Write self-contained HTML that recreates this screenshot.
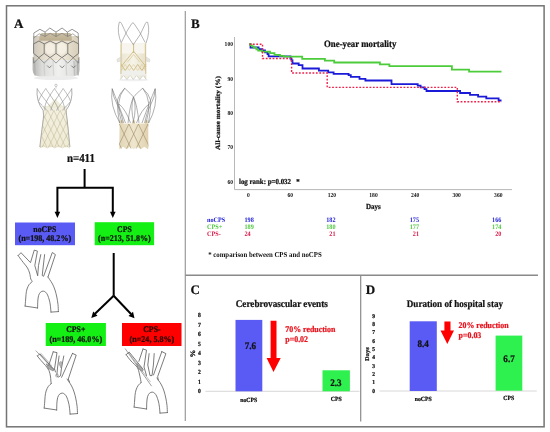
<!DOCTYPE html>
<html><head><meta charset="utf-8"><title>Figure</title>
<style>
html,body{margin:0;padding:0;background:#fff;}
body{width:550px;height:432px;overflow:hidden;}
svg{display:block;}
text{font-family:"Liberation Serif","Times New Roman",serif;font-weight:bold;text-rendering:geometricPrecision;transform-box:fill-box;transform-origin:50% 80.5%;transform:scaleY(1.1);}
text{stroke:#111;stroke-width:0.22px;}
text.ns{transform:none;}
text.rot{transform:scaleX(1.1);}
.cb text{fill:#2020d8;stroke:#2020d8;}
.cg text{fill:#50c840;stroke:#50c840;}
.cr text{fill:#dd1848;stroke:#dd1848;}
.rr text{fill:#e8141e;stroke:#e8141e;}
.dr{fill:#200;stroke:#200;}
.thin text,text.thin{stroke-width:0;stroke:none;}
</style></head>
<body>
<svg width="550" height="432" viewBox="0 0 550 432" fill="#111">
<rect x="0" y="0" width="550" height="432" fill="#fff"/>
<!-- frame -->
<rect x="6.5" y="5.8" width="537.6" height="421" fill="none" stroke="#747474" stroke-width="1.5"/>
<line x1="185.3" y1="11" x2="185.3" y2="421" stroke="#9a9a9a" stroke-width="1.2"/>
<line x1="185.3" y1="275.3" x2="538" y2="275.3" stroke="#8a8a8a" stroke-width="1.4"/>
<line x1="360.7" y1="275.3" x2="360.7" y2="421.5" stroke="#8a8a8a" stroke-width="1.2"/>
<!-- panel letters -->
<text class="ns" x="14" y="27.8" font-size="13">A</text>
<text class="ns" x="190.9" y="27.8" font-size="13">B</text>
<text class="ns" x="190.5" y="294.1" font-size="13">C</text>
<text class="ns" x="365.8" y="293.9" font-size="13">D</text>

<!-- VALVES -->
<g id="valves">
<defs>
<linearGradient id="skirt" x1="0" x2="1" y1="0" y2="0"><stop offset="0" stop-color="#b4b4b2"/><stop offset="0.2" stop-color="#dcdcda"/><stop offset="0.55" stop-color="#f0f0ee"/><stop offset="0.85" stop-color="#e2e2e0"/><stop offset="1" stop-color="#bcbcba"/></linearGradient>
<linearGradient id="body1" x1="0" x2="1" y1="0" y2="0"><stop offset="0" stop-color="#cdc8bc"/><stop offset="0.25" stop-color="#e6dece"/><stop offset="0.6" stop-color="#f0eadc"/><stop offset="1" stop-color="#d6cdb8"/></linearGradient>
<linearGradient id="tissue1" x1="0" x2="0" y1="0" y2="1"><stop offset="0" stop-color="#c9bea4"/><stop offset="1" stop-color="#bcae90"/></linearGradient>
<linearGradient id="cream2" x1="0" x2="1" y1="0" y2="0"><stop offset="0" stop-color="#ebe6d2"/><stop offset="0.5" stop-color="#f6f3e8"/><stop offset="1" stop-color="#e6e0c8"/></linearGradient>
<linearGradient id="cream3" x1="0" x2="0" y1="0" y2="1"><stop offset="0" stop-color="#f3f0e0"/><stop offset="1" stop-color="#efebd4"/></linearGradient>
<linearGradient id="tan4" x1="0" x2="1" y1="0" y2="0"><stop offset="0" stop-color="#e2d6b6"/><stop offset="0.5" stop-color="#eee6ce"/><stop offset="1" stop-color="#e0d2b0"/></linearGradient>
<clipPath id="cl3"><path d="M43.3,108 Q43.9,111 43.2,116 Q41.5,130 39.8,147.3 L69.9,147.3 Q68.5,130 67.2,116 Q66.3,111 66.8,108 Z"/></clipPath>
<clipPath id="cl4"><rect x="119.3" y="123.5" width="29.1" height="25"/></clipPath>
</defs>
<g id="v1"><ellipse cx="56" cy="78" rx="22" ry="2" fill="#ececec"/><path d="M32.6,57 L79.6,57 L79.6,70 Q79.4,76.3 72,76.5 L40,76.5 Q32.8,76.3 32.6,70 Z" fill="url(#skirt)"/><line x1="34.5" y1="61" x2="35.1" y2="75.5" stroke="#b0b0ae" stroke-width="1.3"/><line x1="37" y1="61" x2="37.6" y2="75.5" stroke="#c8c8c6" stroke-width="1.3"/><line x1="44" y1="61" x2="44.6" y2="75.5" stroke="#cfcfcd" stroke-width="1.3"/><line x1="53" y1="61" x2="53.6" y2="75.5" stroke="#d6d6d4" stroke-width="1.3"/><line x1="66" y1="61" x2="66.6" y2="75.5" stroke="#d2d2d0" stroke-width="1.3"/><line x1="74" y1="61" x2="74.6" y2="75.5" stroke="#c0c0be" stroke-width="1.3"/><line x1="77.5" y1="61" x2="78.1" y2="75.5" stroke="#acacaa" stroke-width="1.3"/><rect x="33.4" y="36" width="45.6" height="24" fill="url(#body1)"/><path d="M39.3,40.8 Q39,33.4 42,33 L70,33 Q72,33.4 71.8,40.8 Z" fill="url(#tissue1)"/><ellipse cx="50" cy="48.5" rx="4.65" ry="5.5" fill="#f6f1e6" opacity="0.8"/><ellipse cx="62" cy="48.5" rx="4.4" ry="5.5" fill="#f6f1e6" opacity="0.8"/><polyline points="33.6,43.9 38.9,41.0 44.2,43.9 50.1,41.0 56.0,43.9 61.9,41.0 67.8,43.9 73.2,41.0 78.6,43.9" fill="none" stroke="#5c5c5c" stroke-width="0.75" /><polyline points="33.6,53.4 38.9,57.6 44.2,53.4 50.1,57.6 56.0,53.4 61.9,57.6 67.8,53.4 73.2,57.6 78.6,53.4" fill="none" stroke="#5c5c5c" stroke-width="0.75" /><line x1="33.6" y1="43.9" x2="33.6" y2="53.4" stroke="#5c5c5c" stroke-width="0.75"/><line x1="44.2" y1="43.9" x2="44.2" y2="53.4" stroke="#5c5c5c" stroke-width="0.75"/><line x1="56" y1="43.9" x2="56" y2="53.4" stroke="#5c5c5c" stroke-width="0.75"/><line x1="67.8" y1="43.9" x2="67.8" y2="53.4" stroke="#5c5c5c" stroke-width="0.75"/><line x1="78.6" y1="43.9" x2="78.6" y2="53.4" stroke="#5c5c5c" stroke-width="0.75"/><polyline points="33.6,57.6 33.6,63.1 39.2,57.6" fill="none" stroke="#6a6a6a" stroke-width="0.6" /><polyline points="38.6,57.6 44.2,63.1 49.8,57.6" fill="none" stroke="#6a6a6a" stroke-width="0.6" /><polyline points="50.4,57.6 56.0,63.1 61.6,57.6" fill="none" stroke="#6a6a6a" stroke-width="0.6" /><polyline points="62.2,57.6 67.8,63.1 73.4,57.6" fill="none" stroke="#6a6a6a" stroke-width="0.6" /><polyline points="73.0,57.6 78.6,63.1 78.6,57.6" fill="none" stroke="#6a6a6a" stroke-width="0.6" /><polyline points="47.2,65.6 49.4,67.8 51.6,65.6" fill="none" stroke="#555" stroke-width="0.7" /><polyline points="59.9,65.6 62.1,67.8 64.3,65.6" fill="none" stroke="#555" stroke-width="0.7" /><polyline points="71.3,65.6 73.5,67.8 75.7,65.6" fill="none" stroke="#555" stroke-width="0.7" /><polyline points="33.8,33.0 39.9,29.3 45.1,32.1 49.8,28.0 56.0,32.1 62.1,28.0 67.3,32.1 72.1,29.3 78.2,33.0" fill="none" stroke="#666" stroke-width="0.7" /><polyline points="33.6,38.0 39.2,33.8 45.1,36.5 50.1,33.2 56.0,36.5 62.0,33.2 67.6,36.5 72.8,33.8 78.4,38.0" fill="none" stroke="#777" stroke-width="0.6" /><line x1="33.8" y1="33" x2="33.6" y2="43.9" stroke="#666" stroke-width="0.6"/><line x1="78.2" y1="33" x2="78.6" y2="43.9" stroke="#666" stroke-width="0.6"/><line x1="45.1" y1="32.1" x2="45.1" y2="36.5" stroke="#666" stroke-width="0.6"/><line x1="56" y1="32.1" x2="56" y2="36.5" stroke="#666" stroke-width="0.6"/><line x1="67.3" y1="32.1" x2="67.6" y2="36.5" stroke="#666" stroke-width="0.6"/></g>
<g id="v2"><ellipse cx="133.5" cy="80" rx="15" ry="1.3" fill="#f0f0f0"/><polygon points="120.8,43.5 145.8,43.5 146.3,74.0 146.3,79.6 143.1,75.2 139.8,79.6 136.6,75.2 133.3,79.6 130.1,75.2 126.9,79.6 123.6,75.2 120.4,79.6 120.4,74.0" fill="url(#cream2)"/><rect x="122" y="44" width="22.5" height="9.5" fill="#f7f5ee"/><polyline points="120.4,79.6 123.6,75.2 126.9,79.6 130.1,75.2 133.3,79.6 136.6,75.2 139.8,79.6 143.1,75.2 146.3,79.6" fill="none" stroke="#c8c8c2" stroke-width="0.7" /><rect x="120.6" y="70.5" width="25.5" height="5" fill="#efefeb"/><polyline points="121.2,66.5 133.6,51.2 145.9,66.5" fill="none" stroke="#cbb678" stroke-width="0.8" /><polyline points="127.5,62.0 133.6,54.5 139.7,62.0" fill="none" stroke="#d2c088" stroke-width="0.6" /><polyline points="121.2,64.4 125.2,70.5 129.4,64.4 133.6,70.5 137.7,64.4 141.9,70.5 145.9,64.4" fill="none" stroke="#c8b272" stroke-width="0.75" /><polyline points="121.2,70.5 125.2,64.4 129.4,70.5 133.6,64.4 137.7,70.5 141.9,64.4 145.9,70.5" fill="none" stroke="#d6c692" stroke-width="0.5" /><line x1="133.6" y1="43.5" x2="133.6" y2="53" stroke="#cbb77c" stroke-width="0.9"/><line x1="121" y1="43.5" x2="121" y2="74" stroke="#cdb97f" stroke-width="0.8"/><line x1="145.7" y1="43.5" x2="145.7" y2="74" stroke="#cdb97f" stroke-width="0.8"/><path d="M120.6,57 L116.8,59.5 L117.5,62 L120.6,61 Z" fill="#e8e6de" stroke="#c8c8c0" stroke-width="0.4"/><path d="M146.1,57 L150,59.5 L149.4,62 L146.1,61 Z" fill="#e8e6de" stroke="#c8c8c0" stroke-width="0.4"/><path d="M121.4,43.4 Q116.6,32 119.2,22.3 Q120.3,21.2 121.5,23.5 Q126,35 133.3,44.7" fill="none" stroke="#858585" stroke-width="0.6"/><path d="M145.9,43.4 Q150.4,32 147.7,22.3 Q146.6,21.2 145.4,23.5 Q141,35 133.3,44.7" fill="none" stroke="#858585" stroke-width="0.6"/><path d="M121.4,42.4 Q127,30 131.8,23.5 Q132.9,22 134,23.5 Q139,30 145.1,42.4" fill="none" stroke="#858585" stroke-width="0.6"/></g>
<g id="v3"><path d="M43.3,106 Q43.9,111 43.2,116 Q41.5,130 39.8,147.3 L69.9,147.3 Q68.5,130 67.2,116 Q66.3,111 66.8,106 Z" fill="url(#cream3)"/><path d="M44.5,108 L50,104 L55.5,98.5 L60,104 L65.8,108 Z" fill="#efecd8"/><polyline points="39.8,148.0 43.6,145.6 47.3,148.0 51.1,145.6 54.8,148.0 58.6,145.6 62.4,148.0 66.1,145.6 69.9,148.0" fill="none" stroke="#d6d0b6" stroke-width="0.7" /><path d="M37.2,88.5 Q35.8,101 43.2,110.5 Q43.9,116 43.2,120 Q41.5,132 39.8,147" fill="none" stroke="#8a8a8a" stroke-width="0.7"/><path d="M71.7,88.5 Q73.2,101 66,110.5 Q66.6,116 67.2,120 Q68.5,132 69.9,147" fill="none" stroke="#8a8a8a" stroke-width="0.7"/><polyline points="38.6,101.9 39.5,102.8 40.5,103.8 41.4,104.8 42.3,105.7 43.3,106.7 44.2,107.6 45.2,108.6 46.1,109.5 47.0,110.5" fill="none" stroke="#8a8a8a" stroke-width="0.6" /><polyline points="37.2,88.5 37.7,89.5 38.3,90.4 38.9,91.4 39.5,92.3 40.2,93.3 40.8,94.2 41.5,95.2 42.2,96.2 42.9,97.1 43.7,98.1 44.4,99.0 45.2,100.0 45.9,100.9 46.6,101.9 47.4,102.8 48.1,103.8 48.8,104.8 49.6,105.7 50.2,106.7 50.9,107.6 51.5,108.6 52.2,109.5 52.7,110.5" fill="none" stroke="#8a8a8a" stroke-width="0.6" /><polyline points="45.8,88.5 46.4,89.5 47.0,90.4 47.6,91.4 48.3,92.3 48.9,93.3 49.6,94.2 50.2,95.2 50.9,96.2 51.5,97.1 52.2,98.1 52.8,99.0 53.4,100.0 54.1,100.9 54.7,101.9 55.2,102.8 55.8,103.8 56.3,104.8 56.8,105.7 57.2,106.7 57.6,107.6 57.9,108.6 58.2,109.5 58.4,110.5" fill="none" stroke="#8a8a8a" stroke-width="0.6" /><polyline points="45.8,88.5 45.1,89.5 44.5,90.4 43.8,91.4 43.2,92.3 42.6,93.3 42.0,94.2 41.4,95.2 40.8,96.2 40.3,97.1 39.8,98.1 39.4,99.0 39.0,100.0 38.7,100.9" fill="none" stroke="#8a8a8a" stroke-width="0.6" /><polyline points="54.5,88.5 55.1,89.5 55.7,90.4 56.4,91.4 57.0,92.3 57.6,93.3 58.3,94.2 58.9,95.2 59.5,96.2 60.1,97.1 60.7,98.1 61.2,99.0 61.7,100.0 62.2,100.9 62.7,101.9 63.1,102.8 63.4,103.8 63.7,104.8 64.0,105.7 64.2,106.7 64.3,107.6 64.3,108.6 64.3,109.5 64.1,110.5" fill="none" stroke="#8a8a8a" stroke-width="0.6" /><polyline points="54.5,88.5 53.8,89.5 53.2,90.4 52.6,91.4 51.9,92.3 51.3,93.3 50.7,94.2 50.1,95.2 49.5,96.2 48.9,97.1 48.3,98.1 47.8,99.0 47.3,100.0 46.8,100.9 46.4,101.9 46.0,102.8 45.6,103.8 45.4,104.8 45.1,105.7 45.0,106.7 44.9,107.6 44.9,108.6 44.9,109.5 45.1,110.5" fill="none" stroke="#8a8a8a" stroke-width="0.6" /><polyline points="63.1,88.5 63.8,89.5 64.4,90.4 65.1,91.4 65.8,92.3 66.4,93.3 67.0,94.2 67.6,95.2 68.2,96.2 68.7,97.1 69.2,98.1 69.6,99.0 70.0,100.0 70.4,100.9" fill="none" stroke="#8a8a8a" stroke-width="0.6" /><polyline points="63.1,88.5 62.5,89.5 61.9,90.4 61.3,91.4 60.7,92.3 60.0,93.3 59.4,94.2 58.8,95.2 58.1,96.2 57.5,97.1 56.8,98.1 56.2,99.0 55.6,100.0 55.0,100.9 54.4,101.9 53.8,102.8 53.3,103.8 52.8,104.8 52.3,105.7 51.9,106.7 51.6,107.6 51.2,108.6 51.0,109.5 50.8,110.5" fill="none" stroke="#8a8a8a" stroke-width="0.6" /><polyline points="71.7,88.5 71.2,89.5 70.6,90.4 70.0,91.4 69.4,92.3 68.8,93.3 68.1,94.2 67.4,95.2 66.8,96.2 66.0,97.1 65.3,98.1 64.6,99.0 63.9,100.0 63.1,100.9 62.4,101.9 61.7,102.8 61.0,103.8 60.2,104.8 59.6,105.7 58.9,106.7 58.2,107.6 57.6,108.6 57.0,109.5 56.5,110.5" fill="none" stroke="#8a8a8a" stroke-width="0.6" /><polyline points="70.4,101.9 69.5,102.8 68.6,103.8 67.7,104.8 66.8,105.7 65.8,106.7 64.9,107.6 64.0,108.6 63.1,109.5 62.2,110.5" fill="none" stroke="#8a8a8a" stroke-width="0.6" /><line x1="4.3" y1="110.5" x2="22.3" y2="147.5" stroke="#bdb594" stroke-width="0.5" clip-path="url(#cl3)"/><line x1="4.3" y1="110.5" x2="-13.7" y2="147.5" stroke="#bdb594" stroke-width="0.5" clip-path="url(#cl3)"/><line x1="10.5" y1="110.5" x2="28.5" y2="147.5" stroke="#bdb594" stroke-width="0.5" clip-path="url(#cl3)"/><line x1="10.5" y1="110.5" x2="-7.5" y2="147.5" stroke="#bdb594" stroke-width="0.5" clip-path="url(#cl3)"/><line x1="16.7" y1="110.5" x2="34.7" y2="147.5" stroke="#bdb594" stroke-width="0.5" clip-path="url(#cl3)"/><line x1="16.7" y1="110.5" x2="-1.3" y2="147.5" stroke="#bdb594" stroke-width="0.5" clip-path="url(#cl3)"/><line x1="22.9" y1="110.5" x2="40.9" y2="147.5" stroke="#bdb594" stroke-width="0.5" clip-path="url(#cl3)"/><line x1="22.9" y1="110.5" x2="4.9" y2="147.5" stroke="#bdb594" stroke-width="0.5" clip-path="url(#cl3)"/><line x1="29.1" y1="110.5" x2="47.1" y2="147.5" stroke="#bdb594" stroke-width="0.5" clip-path="url(#cl3)"/><line x1="29.1" y1="110.5" x2="11.1" y2="147.5" stroke="#bdb594" stroke-width="0.5" clip-path="url(#cl3)"/><line x1="35.3" y1="110.5" x2="53.3" y2="147.5" stroke="#bdb594" stroke-width="0.5" clip-path="url(#cl3)"/><line x1="35.3" y1="110.5" x2="17.3" y2="147.5" stroke="#bdb594" stroke-width="0.5" clip-path="url(#cl3)"/><line x1="41.5" y1="110.5" x2="59.5" y2="147.5" stroke="#bdb594" stroke-width="0.5" clip-path="url(#cl3)"/><line x1="41.5" y1="110.5" x2="23.5" y2="147.5" stroke="#bdb594" stroke-width="0.5" clip-path="url(#cl3)"/><line x1="47.7" y1="110.5" x2="65.7" y2="147.5" stroke="#bdb594" stroke-width="0.5" clip-path="url(#cl3)"/><line x1="47.7" y1="110.5" x2="29.7" y2="147.5" stroke="#bdb594" stroke-width="0.5" clip-path="url(#cl3)"/><line x1="53.9" y1="110.5" x2="71.9" y2="147.5" stroke="#bdb594" stroke-width="0.5" clip-path="url(#cl3)"/><line x1="53.9" y1="110.5" x2="35.9" y2="147.5" stroke="#bdb594" stroke-width="0.5" clip-path="url(#cl3)"/><line x1="60.1" y1="110.5" x2="78.1" y2="147.5" stroke="#bdb594" stroke-width="0.5" clip-path="url(#cl3)"/><line x1="60.1" y1="110.5" x2="42.1" y2="147.5" stroke="#bdb594" stroke-width="0.5" clip-path="url(#cl3)"/><line x1="66.3" y1="110.5" x2="84.3" y2="147.5" stroke="#bdb594" stroke-width="0.5" clip-path="url(#cl3)"/><line x1="66.3" y1="110.5" x2="48.3" y2="147.5" stroke="#bdb594" stroke-width="0.5" clip-path="url(#cl3)"/><line x1="72.5" y1="110.5" x2="90.5" y2="147.5" stroke="#bdb594" stroke-width="0.5" clip-path="url(#cl3)"/><line x1="72.5" y1="110.5" x2="54.5" y2="147.5" stroke="#bdb594" stroke-width="0.5" clip-path="url(#cl3)"/><line x1="78.7" y1="110.5" x2="96.7" y2="147.5" stroke="#bdb594" stroke-width="0.5" clip-path="url(#cl3)"/><line x1="78.7" y1="110.5" x2="60.7" y2="147.5" stroke="#bdb594" stroke-width="0.5" clip-path="url(#cl3)"/><line x1="84.9" y1="110.5" x2="102.9" y2="147.5" stroke="#bdb594" stroke-width="0.5" clip-path="url(#cl3)"/><line x1="84.9" y1="110.5" x2="66.9" y2="147.5" stroke="#bdb594" stroke-width="0.5" clip-path="url(#cl3)"/><line x1="91.1" y1="110.5" x2="109.1" y2="147.5" stroke="#bdb594" stroke-width="0.5" clip-path="url(#cl3)"/><line x1="91.1" y1="110.5" x2="73.1" y2="147.5" stroke="#bdb594" stroke-width="0.5" clip-path="url(#cl3)"/><line x1="97.3" y1="110.5" x2="115.3" y2="147.5" stroke="#bdb594" stroke-width="0.5" clip-path="url(#cl3)"/><line x1="97.3" y1="110.5" x2="79.3" y2="147.5" stroke="#bdb594" stroke-width="0.5" clip-path="url(#cl3)"/><circle cx="56" cy="85.3" r="1.2" fill="none" stroke="#999" stroke-width="0.5"/><line x1="56" y1="86.5" x2="56" y2="88.5" stroke="#999" stroke-width="0.5"/></g>
<g id="v4"><polygon points="119.6,123.5 148.2,123.5 148.4,147.0 148.0,149.3 144.4,146.8 140.8,149.3 137.2,146.8 133.7,149.3 130.1,146.8 126.5,149.3 122.9,146.8 119.3,149.3 119.3,147.0" fill="url(#tan4)"/><path d="M119.6,124 L119.6,120.3 L123.2,120.3 L123.2,124 Z" fill="#e6d8b4"/><path d="M132.2,124 L132.2,120.3 L135.2,120.3 L135.2,124 Z" fill="#e6d8b4"/><path d="M145,124 L145,120.3 L148.2,120.3 L148.2,124 Z" fill="#e6d8b4"/><line x1="109.73" y1="124" x2="124.08" y2="154.00" stroke="#9c8a64" stroke-width="0.6" clip-path="url(#cl4)"/><line x1="109.73" y1="124" x2="95.37" y2="154.00" stroke="#9c8a64" stroke-width="0.6" clip-path="url(#cl4)"/><line x1="119.30" y1="124" x2="133.66" y2="154.00" stroke="#9c8a64" stroke-width="0.6" clip-path="url(#cl4)"/><line x1="119.30" y1="124" x2="104.94" y2="154.00" stroke="#9c8a64" stroke-width="0.6" clip-path="url(#cl4)"/><line x1="128.87" y1="124" x2="143.22" y2="154.00" stroke="#9c8a64" stroke-width="0.6" clip-path="url(#cl4)"/><line x1="128.87" y1="124" x2="114.52" y2="154.00" stroke="#9c8a64" stroke-width="0.6" clip-path="url(#cl4)"/><line x1="138.44" y1="124" x2="152.79" y2="154.00" stroke="#9c8a64" stroke-width="0.6" clip-path="url(#cl4)"/><line x1="138.44" y1="124" x2="124.08" y2="154.00" stroke="#9c8a64" stroke-width="0.6" clip-path="url(#cl4)"/><line x1="148.01" y1="124" x2="162.36" y2="154.00" stroke="#9c8a64" stroke-width="0.6" clip-path="url(#cl4)"/><line x1="148.01" y1="124" x2="133.66" y2="154.00" stroke="#9c8a64" stroke-width="0.6" clip-path="url(#cl4)"/><path d="M112.2,88.7 Q109.5,106 120,123" fill="none" stroke="#7a7a7a" stroke-width="0.6"/><path d="M112.2,88.7 Q117,101 125.5,123" fill="none" stroke="#7a7a7a" stroke-width="0.6"/><path d="M124.7,88.2 Q114,101 122,123" fill="none" stroke="#7a7a7a" stroke-width="0.6"/><path d="M124.7,88.2 Q131,94 133.5,97 Q137,104 139,123" fill="none" stroke="#7a7a7a" stroke-width="0.6"/><path d="M142.7,88.2 Q136,94 133.5,97 Q130,104 128,123" fill="none" stroke="#7a7a7a" stroke-width="0.6"/><path d="M142.7,88.2 Q153,101 146,123" fill="none" stroke="#7a7a7a" stroke-width="0.6"/><path d="M155.2,88.7 Q150,101 142,123" fill="none" stroke="#7a7a7a" stroke-width="0.6"/><path d="M155.2,88.7 Q158,106 148.6,123" fill="none" stroke="#7a7a7a" stroke-width="0.6"/><path d="M119,104 Q126,110 130.5,123" fill="none" stroke="#7a7a7a" stroke-width="0.6"/><path d="M149,104 Q141,110 136.5,123" fill="none" stroke="#7a7a7a" stroke-width="0.6"/><path d="M112.2,88.7 Q113,97 117,104 Q121,111 123.5,123" fill="none" stroke="#7a7a7a" stroke-width="0.6"/><path d="M155.2,88.7 Q155,97 151,104 Q147,111 144.5,123" fill="none" stroke="#7a7a7a" stroke-width="0.6"/><path d="M124.7,88.2 Q119,94 117.5,100 Q117,110 119.5,123" fill="none" stroke="#7a7a7a" stroke-width="0.6"/><path d="M142.7,88.2 Q149,94 150.5,100 Q151,110 148.5,123" fill="none" stroke="#7a7a7a" stroke-width="0.6"/><path d="M133.5,97 Q130,108 134,123" fill="none" stroke="#7a7a7a" stroke-width="0.6"/><path d="M133.5,97 Q137,108 133,123" fill="none" stroke="#7a7a7a" stroke-width="0.6"/></g>
</g>

<!-- flowchart -->
<text x="80.9" y="161.7" font-size="10.9" text-anchor="middle">n=411</text>
<g stroke="#000" stroke-width="2" fill="none">
<polyline points="84.6,169 84.6,187.7"/>
<polyline points="57.4,212.5 57.4,187.7 112.8,187.7 112.8,212.5"/>
<polyline points="113.7,253 113.7,295.8"/>
<polyline points="113.7,295.8 95,313.8"/>
<polyline points="113.7,295.8 131,314"/>
</g>
<g fill="#000">
<polygon points="54.6,211.8 60.2,211.8 57.4,218"/>
<polygon points="110,211.8 115.6,211.8 112.8,218"/>
<polygon points="91.3,318 93.2,311.6 97.5,315.8"/>
<polygon points="134.5,318.3 128.5,316 133,311.8"/>
</g>
<rect x="15" y="222.5" width="60" height="22.7" fill="#5a5af5"/>
<rect x="94.7" y="222.2" width="59.4" height="23" fill="#14f014"/>
<rect x="45.7" y="323" width="60.2" height="23" fill="#14f014"/>
<rect x="122" y="323" width="59.5" height="23" fill="#ff0000"/>
<g font-size="7.8" text-anchor="middle">
<text x="44.8" y="231.6">noCPS</text>
<text font-size="8.05" x="44.8" y="241.2">(n=198, 48.2%)</text>
<text x="124.4" y="231.6">CPS</text>
<text font-size="8.05" x="124.4" y="241.2">(n=213, 51.8%)</text>
<text x="75.8" y="332.4">CPS+</text>
<text font-size="8.05" x="75.8" y="342.1">(n=189, 46.0%)</text>
<text x="151.9" y="332.4" class="dr">CPS-</text>
<text font-size="8.05" x="151.9" y="342.1" class="dr">(n=24, 5.8%)</text>
</g>

<!-- ARCHES -->
<g id="arches">
<path d="M18.10,255.60 C18.72,256.43 20.73,259.20 21.80,260.60 C22.87,262.00 23.55,262.77 24.50,264.00 C25.45,265.23 26.65,266.50 27.50,268.00 C28.35,269.50 29.05,271.17 29.60,273.00 C30.15,274.83 30.38,277.57 30.80,279.00 C31.22,280.43 32.35,280.72 32.10,281.60 C31.85,282.48 30.15,283.07 29.30,284.30 C28.45,285.53 27.55,287.30 27.00,289.00 C26.45,290.70 26.23,292.67 26.00,294.50 C25.77,296.33 25.75,298.07 25.60,300.00 C25.45,301.93 25.18,305.08 25.10,306.10 M25.10,306.10 L37.60,308.00 M37.60,308.00 C37.63,306.83 37.63,303.08 37.80,301.00 C37.97,298.92 38.15,296.97 38.60,295.50 C39.05,294.03 39.73,292.93 40.50,292.20 C41.27,291.47 42.35,291.10 43.20,291.10 C44.05,291.10 44.87,291.55 45.60,292.20 C46.33,292.85 46.98,293.70 47.60,295.00 C48.22,296.30 48.85,298.33 49.30,300.00 C49.75,301.67 50.02,302.98 50.30,305.00 C50.58,307.02 50.88,310.92 51.00,312.10 M51.00,312.10 L58.40,311.60 M58.40,311.60 C58.33,310.42 58.27,306.93 58.00,304.50 C57.73,302.07 57.30,299.42 56.80,297.00 C56.30,294.58 55.72,292.17 55.00,290.00 C54.28,287.83 53.42,285.78 52.50,284.00 C51.58,282.22 50.25,280.47 49.50,279.30 C48.75,278.13 48.25,277.38 48.00,277.00 M18.10,255.60 L21.00,252.70 L30.50,262.60 L34.25,250.10 L37.40,251.10 L34.80,265.50 L37.70,275.80 L38.50,265.40 L40.80,254.60 M44.60,254.60 L42.20,275.50 L43.60,276.30 L52.30,252.50 L55.40,254.60 L48.00,277.00" fill="none" stroke="#5a5a5a" stroke-width="0.8" stroke-linejoin="round" stroke-linecap="round"/>
<path d="M51.20,383.60 C50.73,384.05 49.25,385.07 48.40,386.30 C47.55,387.53 46.65,389.30 46.10,391.00 C45.55,392.70 45.33,394.67 45.10,396.50 C44.87,398.33 44.85,400.07 44.70,402.00 C44.55,403.93 44.28,407.08 44.20,408.10 M44.20,408.10 L56.70,410.00 M56.70,410.00 C56.73,408.83 56.73,405.08 56.90,403.00 C57.07,400.92 57.25,398.97 57.70,397.50 C58.15,396.03 58.83,394.93 59.60,394.20 C60.37,393.47 61.45,393.10 62.30,393.10 C63.15,393.10 63.97,393.55 64.70,394.20 C65.43,394.85 66.08,395.70 66.70,397.00 C67.32,398.30 67.95,400.33 68.40,402.00 C68.85,403.67 69.12,404.98 69.40,407.00 C69.68,409.02 69.98,412.92 70.10,414.10 M70.10,414.10 L77.50,413.60 M77.50,413.60 C77.43,412.42 77.37,408.93 77.10,406.50 C76.83,404.07 76.40,401.42 75.90,399.00 C75.40,396.58 74.82,394.17 74.10,392.00 C73.38,389.83 72.52,387.78 71.60,386.00 C70.68,384.22 69.35,382.47 68.60,381.30 C67.85,380.13 67.35,379.38 67.10,379.00" fill="none" stroke="#5a5a5a" stroke-width="0.8" stroke-linejoin="round" stroke-linecap="round"/>
<path d="M37.30,356.00 L39.90,353.90 L54.10,369.70 M37.30,356.00 C37.92,356.75 39.63,358.92 41.00,360.50 C42.37,362.08 44.17,363.82 45.50,365.50 C46.83,367.18 48.18,368.85 49.00,370.60 C49.82,372.35 50.08,374.27 50.40,376.00 C50.72,377.73 50.77,379.73 50.90,381.00 C51.03,382.27 51.15,383.17 51.20,383.60 M53.20,351.80 L57.00,352.60 L54.50,368.90 L55.50,372.00 M53.20,351.80 L49.50,363.00 L48.50,366.00 M59.10,356.00 L57.50,368.00 L56.80,375.60 L58.50,377.00 L60.50,375.80 L61.50,368.00 L63.80,356.00 M72.50,353.40 L76.20,355.10 L68.30,379.00 L69.50,382.00 M72.50,353.40 L61.60,377.30" fill="none" stroke="#5a5a5a" stroke-width="0.8" stroke-linejoin="round" stroke-linecap="round"/>
<path d="M35.7,350.5 L54,370" fill="none" stroke="#6a6a6a" stroke-width="0.6"/>
<path d="M40.5,352.8 L52,366" fill="none" stroke="#8a8a8a" stroke-width="0.5"/>
<path d="M46.2,363.8 L54,369.2 L53.2,371 L48.2,368.5 Z" fill="#a8a8a8" stroke="#6a6a6a" stroke-width="0.5"/>
<path d="M59,364 Q60,360 62.2,362.5 L61,368 Z" fill="#b8b8b8" stroke="#777" stroke-width="0.4"/>
<ellipse cx="57" cy="375.5" rx="1.4" ry="1.6" fill="none" stroke="#777" stroke-width="0.5"/>
<path d="M141.10,382.60 C140.63,383.05 139.15,384.07 138.30,385.30 C137.45,386.53 136.55,388.30 136.00,390.00 C135.45,391.70 135.23,393.67 135.00,395.50 C134.77,397.33 134.75,399.07 134.60,401.00 C134.45,402.93 134.18,406.08 134.10,407.10 M134.10,407.10 L146.60,409.00 M146.60,409.00 C146.63,407.83 146.63,404.08 146.80,402.00 C146.97,399.92 147.15,397.97 147.60,396.50 C148.05,395.03 148.73,393.93 149.50,393.20 C150.27,392.47 151.35,392.10 152.20,392.10 C153.05,392.10 153.87,392.55 154.60,393.20 C155.33,393.85 155.98,394.70 156.60,396.00 C157.22,397.30 157.85,399.33 158.30,401.00 C158.75,402.67 159.02,403.98 159.30,406.00 C159.58,408.02 159.88,411.92 160.00,413.10 M160.00,413.10 L167.40,412.60 M167.40,412.60 C167.33,411.42 167.27,407.93 167.00,405.50 C166.73,403.07 166.30,400.42 165.80,398.00 C165.30,395.58 164.72,393.17 164.00,391.00 C163.28,388.83 162.42,386.78 161.50,385.00 C160.58,383.22 159.25,381.47 158.50,380.30 C157.75,379.13 157.25,378.38 157.00,378.00" fill="none" stroke="#5a5a5a" stroke-width="0.8" stroke-linejoin="round" stroke-linecap="round"/>
<path d="M126.10,354.70 L129.20,352.10 L142.50,368.50 M126.10,354.70 C126.92,355.75 129.13,358.88 131.00,361.00 C132.87,363.12 135.90,365.23 137.30,367.40 C138.70,369.57 138.85,371.98 139.40,374.00 C139.95,376.02 140.32,378.07 140.60,379.50 C140.88,380.93 141.02,382.08 141.10,382.60 M143.00,349.00 L146.50,350.10 L144.00,367.00 L146.50,375.50 M143.00,349.00 L138.90,361.30 M149.10,353.60 L147.80,365.00 L150.00,375.60 L152.00,375.60 L153.40,365.00 L154.20,353.60 M161.80,351.60 L165.90,353.60 L157.70,376.50 L158.20,380.00 M161.80,351.60 L153.50,375.00" fill="none" stroke="#5a5a5a" stroke-width="0.8" stroke-linejoin="round" stroke-linecap="round"/>
<path d="M125.1,348.5 L151.6,386.2" fill="none" stroke="#5e5e5e" stroke-width="0.6"/>
<path d="M128.2,352.1 L150.5,382" fill="none" stroke="#7a7a7a" stroke-width="0.5"/>
<path d="M136.8,363.3 L143.4,369.4 L142.4,371.3 L137.5,367.8 Z" fill="#a8a8a8" stroke="#6a6a6a" stroke-width="0.5"/>
</g>

<!-- Panel B -->
<g stroke="#b8b8b8" stroke-width="1" fill="none">
<line x1="234.5" y1="37" x2="234.5" y2="189.6"/>
<line x1="234.5" y1="189.6" x2="512" y2="189.6"/>
</g>
<text x="360.2" y="47" font-size="8.8" text-anchor="middle">One-year mortality</text>
<g font-size="5.6" text-anchor="end" class="thin">
<text x="233" y="46.5">100</text>
<text x="233" y="80.8">90</text>
<text x="233" y="115.1">80</text>
<text x="233" y="149.4">70</text>
<text x="233" y="183.7">60</text>
</g>
<g font-size="5.6" text-anchor="middle" class="thin">
<text x="248.5" y="196.9">0</text>
<text x="290.2" y="196.9">60</text>
<text x="331.9" y="196.9">120</text>
<text x="373.5" y="196.9">180</text>
<text x="415.1" y="196.9">240</text>
<text x="456.7" y="196.9">300</text>
<text x="498.3" y="196.9">360</text>
</g>
<text x="373.4" y="209.2" font-size="7" text-anchor="middle">Days</text>
<g transform="translate(219.6,113) rotate(-90)"><text class="rot" x="0" y="0" font-size="6.65" text-anchor="middle">All-cause mortality (%)</text></g>
<text x="239" y="184.2" font-size="6.9">log rank: p=0.032 <tspan dx="3.5" class="thin">*</tspan></text>
<polyline points="249.5,44.2 250.5,44.2 250.5,47.5 258.6,47.5 258.6,49.2 262.3,49.2 262.3,50.5 265,50.5 265,52.3 267.5,52.3 267.5,54.2 268.6,54.2 268.6,56.4 290.5,56.4 290.5,58.5 291.5,58.5 291.5,60.5 292.5,60.5 292.5,63.5 298.7,63.5 298.7,65.2 302.5,65.2 302.5,68.5 318.9,68.5 318.9,70.6 328.2,70.6 328.2,72.3 333.6,72.3 333.6,73.8 348.6,73.8 348.6,75.2 350.8,75.2 350.8,76.9 359.5,76.9 359.5,78.8 365.4,78.8 365.4,80.5 391.5,80.5 391.5,84.2 417.7,84.2 417.7,85.6 420.6,85.6 420.6,87.3 424.5,87.3 424.5,89.2 426.5,89.2 426.5,91 460.1,91 460.1,93 470,93 470,94.8 478.1,94.8 478.1,96.6 486.3,96.6 486.3,98.4 498.6,98.4 498.6,100.5 501.5,100.5" fill="none" stroke="#1a1ad8" stroke-width="1.8"/>
<polyline points="249.3,43.9 250.3,43.9 250.3,45.2 251.8,45.2 251.8,46.4 253.6,46.4 253.6,47.6 256.4,47.6 256.4,49.4 258.2,49.4 258.2,50.6 262,50.6 262,51.6 270,51.6 270,53.1 274.5,53.1 274.5,54.8 280,54.8 280,55.8 284,55.8 284,56.7 302.2,56.7 302.2,58.8 324.9,58.8 324.9,60.7 334.2,60.7 334.2,62.5 379.9,62.5 379.9,64.3 389.4,64.3 389.4,66.1 451.9,66.1 451.9,69.7 469.1,69.7 469.1,71.7 501.5,71.7" fill="none" stroke="#4ccc3a" stroke-width="1.8"/>
<polyline points="249.5,44.2 262.5,44.2 262.5,58.5 291.6,58.5 291.6,73.0 327.2,73.0 327.2,87.4 457.3,87.4 457.3,101.7 501.5,101.7" fill="none" stroke="#f0204a" stroke-width="1.4" stroke-dasharray="1.8 1.6"/>
<g font-size="6.2" class="thin">
<g class="cb"><text x="207" y="221.9">noCPS</text><text x="244.5" y="221.9">198</text><text x="335.5" y="221.9" text-anchor="end">182</text><text x="419" y="221.9" text-anchor="end">175</text><text x="501.4" y="221.9" text-anchor="end">166</text></g>
<g class="cg"><text x="207" y="229">CPS+</text><text x="244.5" y="229">189</text><text x="335.5" y="229" text-anchor="end">180</text><text x="419" y="229" text-anchor="end">177</text><text x="501.4" y="229" text-anchor="end">174</text></g>
<g class="cr"><text x="207" y="236.1">CPS-</text><text x="244.5" y="236.1">24</text><text x="335.5" y="236.1" text-anchor="end">21</text><text x="419" y="236.1" text-anchor="end">21</text><text x="501.4" y="236.1" text-anchor="end">20</text></g>
</g>
<text class="thin" x="208.2" y="256.9" font-size="6.8">* comparison between CPS and noCPS</text>

<!-- Panel C -->
<text x="281.8" y="306.7" font-size="9.2" text-anchor="middle">Cerebrovascular events</text>
<line x1="205.4" y1="391.3" x2="359.5" y2="391.3" stroke="#d8d8d8" stroke-width="1"/>
<g font-size="5.7" text-anchor="middle">
<text x="199.4" y="393.2">0</text><text x="199.4" y="383.7">1</text><text x="199.4" y="374.2">2</text><text x="199.4" y="364.7">3</text><text x="199.4" y="355.2">4</text><text x="199.4" y="345.7">5</text><text x="199.4" y="336.2">6</text><text x="199.4" y="326.7">7</text><text x="199.4" y="317.2">8</text>
</g>
<g transform="translate(195.1,353.6) rotate(-90)"><text class="rot" x="0" y="0" font-size="7" text-anchor="middle">%</text></g>
<rect x="235.5" y="319.9" width="26.8" height="71.4" fill="#5a5af5"/>
<rect x="322.5" y="370.3" width="27.4" height="21" fill="#2ef04e"/>
<text x="250.45" y="349.1" font-size="9.1" text-anchor="middle">7.6</text>
<text x="335.85" y="385.7" font-size="9.1" text-anchor="middle">2.3</text>
<polygon points="270.6,320.8 276.5,320.8 276.5,358 280.7,358 273.5,372.1 266.6,358 270.6,358" fill="#ff0000"/>
<g font-size="7.9" class="rr"><text x="285.3" y="332.2">70% reduction</text><text x="285.3" y="342.3">p=0.02</text></g>
<g font-size="5.8" text-anchor="middle"><text x="248.7" y="402">noCPS</text><text x="336.3" y="401.5">CPS</text></g>

<!-- Panel D -->
<text x="454.9" y="306.9" font-size="9.1" text-anchor="middle">Duration of hospital stay</text>
<line x1="379.5" y1="391" x2="536.8" y2="391" stroke="#d8d8d8" stroke-width="1"/>
<g font-size="5.5" text-anchor="middle">
<text x="373.6" y="392.75">0</text><text x="373.6" y="384.45">1</text><text x="373.6" y="376.1">2</text><text x="373.6" y="367.75">3</text><text x="373.6" y="359.45">4</text><text x="373.6" y="351.15">5</text><text x="373.6" y="342.8">6</text><text x="373.6" y="334.45">7</text><text x="373.6" y="326.15">8</text><text x="373.6" y="317.75">9</text>
</g>
<g transform="translate(369.1,354.0) rotate(-90)"><text class="rot" x="0" y="0" font-size="5.9" text-anchor="middle">Days</text></g>
<rect x="409.7" y="321.3" width="27.1" height="69.7" fill="#5a5af5"/>
<rect x="495.6" y="335.6" width="26.7" height="55.1" fill="#2ef04e"/>
<text x="423.2" y="346.8" font-size="9.1" text-anchor="middle">8.4</text>
<text x="509.05" y="362.1" font-size="9.1" text-anchor="middle">6.7</text>
<polygon points="444.4,321.5 450.5,321.5 450.5,330.5 454,330.5 447.3,344 440.5,330.5 444.4,330.5" fill="#ff0000"/>
<g font-size="7.9" class="rr"><text x="458.6" y="328.1">20% reduction</text><text x="458.6" y="337.7">p=0.03</text></g>
<g font-size="5.8" text-anchor="middle"><text x="423.3" y="401">noCPS</text><text x="508.8" y="400.4">CPS</text></g>
</svg>
</body></html>
